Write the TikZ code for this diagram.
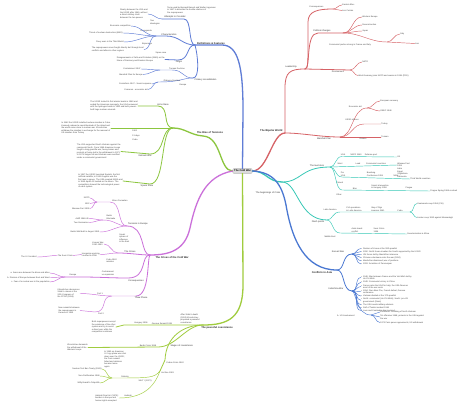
\documentclass[tikz,border=0pt]{standalone}
\usepackage{fontspec}
\setmainfont{Liberation Sans}
\definecolor{cdef}{RGB}{96,125,214}
\definecolor{cten}{RGB}{140,198,63}
\definecolor{cpur}{RGB}{203,112,218}
\definecolor{cpea}{RGB}{160,204,62}
\definecolor{cred}{RGB}{214,98,102}
\definecolor{ctea}{RGB}{56,200,182}
\definecolor{casi}{RGB}{74,120,210}
\begin{document}
\begin{tikzpicture}[x=1pt,y=-1pt,
 lf/.style={font=\fontsize{2.1}{2.5}\selectfont, inner sep=0.2pt, text=black!72, align=left},
 lab/.style={font=\fontsize{2.3}{2.7}\selectfont, inner sep=0.3pt, text=black!80, align=center},
 ml/.style={font=\bfseries\fontsize{2.6}{3}\selectfont, inner sep=0.3pt, text=black!85},
 mb/.style={line width=1.3pt, line cap=round},
 sb/.style={line width=0.8pt, line cap=round},
 lb/.style={line width=0.45pt, line cap=round}]
\useasboundingbox (0,0) rectangle (474,407);
\fill[white] (0,0) rectangle (474,407);

\node[fill=gray!28, draw=gray!55, line width=0.3pt, rounded corners=1pt, font=\bfseries\fontsize{2.6}{3}\selectfont, inner sep=1.4pt, minimum width=19pt] (root) at (242.5,171) {The Cold War};

% ================= DEFINITIONS (blue) =================
\coordinate (dJ) at (195,45);
\draw[cdef,mb] (root.north) -- (243,110) .. controls (243,66) and (238,45) .. (222,45) -- (dJ);
\node[ml,anchor=south] (dL) at (211,44.6) {Definitions \& Features};
% attempts
\coordinate (dA) at (184,19);
\coordinate (dA2) at (162,19);
\draw[cdef,sb] (dJ) .. controls (188,45) and (192,19) .. (dA) -- (dA2);
\node[lab,anchor=south] (dAl) at (175,18.6) {Attempts to Consider};
\node[lf,anchor=east] (dA1) at (148,14) {Rivalry between the USA and\\the USSR after 1945, without\\a direct military clash\\between the two powers};
\draw[cdef,lb] (dA2) to[out=180,in=0] (dA1.east);
\node[lf,anchor=south west] (dA3) at (167,14) {Term used by Bernard Baruch and Walter Lippmann\\in 1947 to describe the hostile relations of\\the superpowers};
% characteristics
\coordinate (dC) at (156,36);
\draw[cdef,sb] (dJ) .. controls (182,45) and (180,36) .. (166,36) -- (dC);
\node[lab,anchor=south] (dCl) at (169,35.6) {Characteristics};
\node[lf,anchor=east] (dC1) at (131,26) {Economic competition};
\node[lf,anchor=east] (dC2) at (123,33) {Threat of nuclear destruction (MAD)};
\node[lf,anchor=east] (dC3) at (124,42) {Proxy wars in the Third World};
\node[lf,anchor=east] (dC4) at (144,49.5) {The superpowers never fought directly but through local\\conflicts and allies in other regions};
\node[lf] (dCa) at (155,22.5) {Two\\ideologies};
\node[lf] (dCb) at (146,31) {Propaganda};
\node[lf] (dCc) at (147,44) {Espionage};
\node[lf] (dCd) at (161,52.5) {Space race};
\draw[cdef,lb] (dC) to[out=180,in=0] (dC1.east);
\draw[cdef,lb] (dC) to[out=180,in=0] (dC2.east);
\draw[cdef,lb] (dC) to[out=180,in=0] (dC3.east);
\draw[cdef,lb] (dC) to[out=180,in=0] (dC4.east);
% origin
\node[lf,anchor=east] (dO1) at (165,59.5) {Disagreements at Yalta and Potsdam (1945) on the\\future of Germany and Eastern Europe};
\draw[cdef,sb] (dJ) .. controls (186,45) and (190,60) .. (178,60) -- (dO1.east);
\node[lab,anchor=north] (dOl) at (179,60.6) {Origin};
% primary consolidation
\coordinate (dP) at (193,78);
\coordinate (dP1) at (160,70);
\coordinate (dP2) at (158,82);
\draw[cdef,sb] (dJ) .. controls (198,56) and (200,78) .. (dP);
\node[lab,anchor=north west] (dPl) at (194,78.6) {Primary consolidation};
\draw[cdef,lb] (dP) .. controls (182,78) and (184,70) .. (172,70) -- (dP1);
\draw[cdef,lb] (dP) .. controls (182,78) and (182,82) .. (dP2);
\node[lf,anchor=south] (dPa) at (177,69.6) {Truman Doctrine};
\node[lf,anchor=south] (dPb) at (172,81.6) {Zhdanov Doctrine};
\node[lf,anchor=east] (dP1a) at (141,69) {Containment 1947};
\node[lf,anchor=east] (dP1b) at (143,74.5) {Marshall Plan for Europe};
\node[lf,anchor=east] (dP2a) at (152,84) {Cominform 1947 - Soviet response};
\node[lf,anchor=east] (dP2b) at (148,89.5) {Comecon - economic aid};
\node[lf] (dP3) at (183,85) {Europe};
\draw[cdef,lb] (dP1) to[out=180,in=0] (dP1a.east);
\draw[cdef,lb] (dP1) to[out=180,in=0] (dP1b.east);
\draw[cdef,lb] (dP2) to[out=180,in=0] (dP2a.east);
\draw[cdef,lb] (dP2) to[out=180,in=0] (dP2b.east);

% ================= RISE OF TENSIONS (green) =================
\coordinate (tJ) at (173,128);
\draw[cten,mb] (root.west) .. controls (219,171) and (222,137) .. (203,136) .. controls (190,135) and (185,128) .. (tJ);
\node[ml,anchor=south] (tL) at (210,134.4) {The Rise of Tensions};
\node[lf,anchor=east] (tA1) at (138,106) {The USSR tested its first atomic bomb in 1949 and\\ended the American monopoly; the USA answered\\with the hydrogen bomb in 1952 and both powers\\built huge nuclear arsenals};
\draw[cten,sb] (tJ) .. controls (162,128) and (170,106) .. (158,106) -- (tA1.east);
\node[lab,anchor=south] (tAl) at (163,105.6) {Arms Race};
\node[lf,anchor=east] (tB1) at (111,128) {In 1962 the USSR installed nuclear missiles in Cuba.\\Kennedy ordered a naval blockade of the island and\\the world came close to nuclear war. Khrushchev\\withdrew the missiles in exchange for the removal of\\US missiles from Turkey};
\draw[cten,sb] (tJ) -- (tB1.east);
\node[lf,anchor=north west,font=\fontsize{2.1}{4.8}\selectfont] (tB2) at (132,129.5) {1962\\13 days\\Cuba};
\node[lf,anchor=east] (tC1) at (121,151.5) {The USA supported South Vietnam against the\\communist North. From 1965 American troops\\fought a long guerrilla war; heavy losses and\\protests at home led to the withdrawal in 1973.\\In 1975 Saigon fell and Vietnam was reunified\\under a communist government};
\draw[cten,sb] (tJ) .. controls (160,128) and (166,154) .. (150,154) -- (tC1.east);
\node[lab,anchor=north] (tCl) at (145,154.8) {Vietnam War};
\node[lf,anchor=east] (tD1) at (123,181) {In 1957 the USSR launched Sputnik, the first\\artificial satellite; in 1961 Gagarin was the\\first man in space. The USA created NASA and\\in 1969 Apollo 11 landed on the Moon. The\\competition showed the technological power\\of each system};
\draw[cten,sb] (tJ) .. controls (160,128) and (166,184) .. (150,184) -- (tD1.east);
\node[lab,anchor=north] (tDl) at (147,184.8) {Space Race};

% ================= CRISES (purple) =================
\coordinate (pJ) at (150,255);
\draw[cpur,mb] (root.west) .. controls (205,176) and (196,200) .. (190,228) .. controls (185,250) and (170,255) .. (pJ);
\node[ml,anchor=north west] (pL) at (155,256) {The Crises of the Cold War};
% A
\coordinate (pA) at (127,226);
\coordinate (pA1) at (97,202);
\coordinate (pA2) at (103,220);
\draw[cpur,sb] (pJ) .. controls (140,255) and (146,226) .. (pA);
\node[lab,anchor=south] (pAl) at (138,225.6) {Tensions in Europe};
\draw[cpur,lb] (pA) .. controls (117,226) and (122,202) .. (110,202) -- (pA1);
\node[lf,anchor=south] (pA1l) at (120,201.6) {Blocs Formation};
\node[lf,anchor=east] (pA1a) at (90,198) {NATO};
\node[lf,anchor=east] (pA1b) at (90,203.5) {EEC};
\node[lf,anchor=east] (pA1c) at (90,208.5) {Warsaw Pact 1955};
\draw[cpur,lb] (pA1) to[out=180,in=0] (pA1a.east);
\draw[cpur,lb] (pA1) to[out=180,in=0] (pA1b.east);
\draw[cpur,lb] (pA1) to[out=180,in=0] (pA1c.east);
\draw[cpur,lb] (pA) .. controls (117,226) and (115,220) .. (pA2);
\node[lf,anchor=south] (pA2l) at (111,219.6) {Berlin\\Blockade};
\node[lf,anchor=east] (pA2a) at (89,218.5) {Airlift 1948-49};
\node[lf,anchor=east] (pA2b) at (89,222.5) {Two Germanies};
\draw[cpur,lb] (pA2) to[out=180,in=0] (pA2a.east);
\draw[cpur,lb] (pA2) to[out=180,in=0] (pA2b.east);
\node[lf,anchor=east] (pA3) at (100,232) {Berlin Wall built in August 1961};
\draw[cpur,lb] (pA) to[out=180,in=0] (pA3.east);
\node[lf,anchor=north west] (pA4) at (119,233.5) {Soviet\\sphere of\\influence\\in the East};
% B
\coordinate (pB) at (118,253);
\draw[cpur,sb] (pJ) .. controls (140,255) and (130,253) .. (pB);
\node[lab,anchor=south] (pBl) at (130,252.6) {The Crises};
\node[lf,anchor=east] (pB1) at (104,244) {Korean War\\1950-1953};
\node[lf,anchor=east] (pB2) at (100,254.5) {Hungarian uprising\\crushed in 1956};
\node[lf,anchor=east] (pB3) at (73,255.5) {The Suez Crisis};
\node[lf,anchor=east] (pB4) at (37,257) {The U-2 incident};
\node[lf,anchor=north west] (pB5) at (106,258.5) {Cuba 1962\\missiles};
\draw[cpur,lb] (pB) to[out=180,in=0] (pB1.east);
\draw[cpur,lb] (pB) to[out=180,in=0] (pB2.east);
\draw[cpur,lb] (pB2.west) to[out=180,in=0] (pB3.east);
\draw[cpur,lb] (pB3.west) to[out=180,in=0] (pB4.east);
% C
\coordinate (pC) at (80,277);
\coordinate (pC1) at (65,277);
\draw[cpur,sb] (pJ) .. controls (140,255) and (148,278) .. (128,278) .. controls (110,278) and (100,277) .. (pC) -- (pC1);
\node[lab,anchor=north] (pCl) at (136,279) {Consequences};
\node[lf,anchor=south] (pCm) at (73,276.6) {Europe};
\node[lf,anchor=south] (pCn) at (108,276) {Containment\\vs expansion};
\node[lf,anchor=east] (pC1a) at (50,273) {a. Arms race between the blocs and allies};
\node[lf,anchor=east] (pC1b) at (50,277.5) {b. Division of Europe between East and West};
\node[lf,anchor=east] (pC1c) at (50,282) {c. Fear of a nuclear war in the population};
\draw[cpur,lb] (pC1) to[out=180,in=0] (pC1a.east);
\draw[cpur,lb] (pC1) to[out=180,in=0] (pC1b.east);
\draw[cpur,lb] (pC1) to[out=180,in=0] (pC1c.east);
% D
\coordinate (pD) at (136,296);
\coordinate (pD2) at (112,296);
\draw[cpur,sb] (pJ) .. controls (147,258) and (150,296) .. (pD);
\node[lab,anchor=north] (pDl) at (141,296.8) {Thaw Phase};
\node[lf,anchor=east] (pD1) at (80,293.5) {Khrushchev denounces\\Stalin's crimes at the\\20th Congress of\\the CPSU (1956)};
\draw[cpur,lb] (pD) -- (pD2) to[out=180,in=0] (pD1.east);
\node[lf,anchor=south] (pD1l) at (100,294.6) {Part 1};
\node[lf,anchor=east] (pD3) at (80,310.5) {New summits between\\the superpowers in\\Geneva in 1955};
\draw[cpur,lb] (pD2) .. controls (100,296) and (108,312) .. (95,312) -- (pD3.east);
\node[lf,anchor=north] (pD3l) at (101,312.6) {Part 2};

% ================= PEACEFUL COEXISTENCE (lime) =================
\coordinate (cJ) at (203,325);
\draw[cpea,mb] (root.south) -- (243,285) .. controls (243,318) and (228,325) .. (cJ);
\node[ml,anchor=north] (cL) at (217,325.8) {The peaceful coexistence};
\node[lf,anchor=south east] (cN) at (200,323.5) {After Stalin's death\\(1953) Khrushchev\\proposed a peaceful\\coexistence};
\node[lf,anchor=east] (cA1) at (116,327) {Both superpowers accept\\the existence of the other\\system and try to avoid\\a direct war, while the\\competition continues};
\draw[cpea,sb] (cJ) -- (124,325) to[out=180,in=0] (cA1.east);
\node[lf,anchor=south] (cAa) at (141,324.6) {Hungary 1956};
\node[lf,anchor=south] (cAb) at (162,324.6) {Geneva Summit 1955};
\node[lf,anchor=east] (cB1) at (88,347.5) {Khrushchev demands\\the withdrawal of the\\Western troops};
\draw[cpea,sb] (cJ) .. controls (186,325) and (176,347) .. (158,347) -- (cB1.east);
\node[lf,anchor=south] (cB1l) at (148,346.6) {Berlin Crisis 1958};
\node[lab,anchor=west] (cBl) at (170,345.5) {Stages of coexistence};
\node[lf,anchor=north west] (cB2) at (104,350.5) {In 1960 an American\\U-2 spy plane was shot\\down over the USSR;\\the Paris summit\\failed and relations\\became tense\\again};
\coordinate (cC) at (165,360);
\coordinate (cC2) at (160,371);
\coordinate (cD) at (112,378);
\draw[cpea,sb] (cJ) .. controls (184,325) and (166,336) .. (cC) -- (cC2);
\node[lf,anchor=west] (cCl) at (166,362.5) {Cuban Crisis 1962};
\node[lf,anchor=west] (cC2l) at (161,373) {Hot line 1963};
\draw[cpea,lb] (cC2) .. controls (154,378) and (150,378) .. (cD);
\node[lf,anchor=south] (cDl) at (125,377.6) {D\'etente};
\node[lf,anchor=north] (cSl) at (145,379.2) {SALT I (1972)};
\node[lf,anchor=east] (cD1) at (102,369) {Nuclear Test Ban Treaty (1963)};
\node[lf,anchor=east] (cD2) at (100,376) {Non-Proliferation 1968};
\node[lf,anchor=east] (cD3) at (100,383) {Willy Brandt's Ostpolitik};
\draw[cpea,lb] (cD) to[out=180,in=0] (cD1.east);
\draw[cpea,lb] (cD) to[out=180,in=0] (cD2.east);
\draw[cpea,lb] (cD) to[out=180,in=0] (cD3.east);
\node[lf,anchor=east] (cE1) at (119,398) {Helsinki Final Act (1975):\\borders in Europe and\\human rights accepted};
\draw[cpea,lb] (cC2) .. controls (155,385) and (145,398) .. (cE1.east);
\node[lf,anchor=south] (cEl) at (128,397.4) {Helsinki};

% ================= BIPOLAR WORLD (red) =================
\coordinate (rJ) at (285,133);
\draw[cred,mb] (root.east) .. controls (268,171) and (272,133) .. (rJ);
\node[ml,anchor=south east] (rL) at (283,132.4) {The Bipolar World};
\coordinate (rA) at (305,69);
\draw[cred,sb] (rJ) -- (285,88) .. controls (285,72) and (290,69) .. (rA);
\node[lab,anchor=south] (rAl) at (291,68.4) {Leadership};
% up
\coordinate (rA1) at (333,9);
\draw[cred,sb] (rA) .. controls (308,69) and (308,62) .. (308,45) -- (308,22) .. controls (308,11) and (318,9) .. (rA1);
\node[lf,anchor=south west] (rA1l) at (309,8.6) {Consequences};
\node[lf,anchor=west] (rA1a) at (342,5) {Eastern Bloc};
\node[lf,anchor=west] (rA1b) at (342,10.5) {Iron Curtain};
\draw[cred,lb] (rA1) to[out=0,in=180] (rA1a.west);
\draw[cred,lb] (rA1) to[out=0,in=180] (rA1b.west);
% middle
\coordinate (rA2) at (343,33);
\coordinate (rA3) at (387,42);
\draw[cred,sb] (rA) .. controls (311,69) and (305,33) .. (318,33) -- (rA2);
\node[lab,anchor=south] (rA2l) at (322,32.6) {Political changes};
\node[lf,anchor=west] (rA2a) at (362,17) {Western Europe};
\node[lf,anchor=west] (rA2b) at (362,25) {Reconstruction};
\node[lf,anchor=west] (rA2c) at (362,31) {Japan};
\node[lf,anchor=west] (rA3a) at (400,34) {Italy};
\node[lf,anchor=west] (rA3b) at (415,43.5) {Iran};
\node[lf,anchor=north] (rA2n) at (350,44) {Communist parties strong in France and Italy};
\draw[cred,lb] (rA2) to[out=0,in=180] (rA2a.west);
\draw[cred,lb] (rA2) to[out=0,in=180] (rA2b.west);
\draw[cred,lb] (rA2) to[out=0,in=180] (rA2c.west);
\draw[cred,lb] (rA2) to[out=0,in=180] (rA3);
\draw[cred,lb] (rA3) to[out=0,in=180] (rA3a.west);
\draw[cred,lb] (rA3) -- (rA3b.west);
% lower
\coordinate (rA4) at (350,70);
\draw[cred,sb] (rA) -- (rA4);
\node[lf,anchor=north] (rA4l) at (338,70.6) {Rearmament};
\node[lf,anchor=west] (rA4a) at (362,62) {NATO};
\node[lf,anchor=west] (rA4b) at (358,75.5) {West Germany joins NATO and rearms in 1955 (FRG)};
\draw[cred,lb] (rA4) to[out=0,in=180] (rA4a.west);
\draw[cred,lb] (rA4) to[out=0,in=180] (rA4b.west);
% right
\coordinate (rB) at (340,137);
\coordinate (rB1) at (367,108);
\draw[cred,sb] (rJ) .. controls (302,133) and (320,137) .. (rB);
\node[lab,anchor=north] (rBl) at (324,137.6) {Marshall Plan};
\draw[cred,lb] (rB) .. controls (353,137) and (352,108) .. (rB1);
\node[lf,anchor=south east] (rB1l) at (362,107.6) {Economic aid};
\node[lf,anchor=west] (rB1a) at (380,101) {European recovery};
\node[lf,anchor=west] (rB1b) at (380,111) {OEEC 1948};
\draw[cred,lb] (rB1) to[out=0,in=180] (rB1a.west);
\draw[cred,lb] (rB1) to[out=0,in=180] (rB1b.west);
\node[lf,anchor=west] (rB2) at (381,124) {Turkey};
\draw[cred,lb] (rB) .. controls (352,137) and (352,124) .. (364,124) -- (rB2.west);
\node[lf,anchor=south] (rB2l) at (352,121) {USSR refuses};
\node[lf,anchor=west] (rB3) at (381,137) {Truman};
\draw[cred,lb] (rB) -- (rB3.west);
\node[lf,anchor=north] (rB3l) at (363,137.6) {Greece};

% ================= BEGINNINGS (teal) =================
\coordinate (eJ) at (282,182);
\draw[ctea,mb] (root.east) .. controls (266,171) and (268,182) .. (eJ);
\node[lab,anchor=north] (eL) at (268,191.5) {The beginnings of Crisis};
\coordinate (eT1) at (330,167);
\draw[ctea,sb] (eJ) .. controls (302,182) and (300,167) .. (eT1);
\node[lab,anchor=south] (eT1l) at (317,166.6) {The two blocs};
% 1
\node[lf,anchor=west] (e1) at (397,157) {UK};
\draw[ctea,lb] (eT1) .. controls (336,167) and (335,156.5) .. (342,156.5) -- (e1.west);
\node[lf,anchor=south] (e1a) at (343,156.2) {USA};
\node[lf,anchor=south] (e1b) at (356,156.2) {NATO 1949};
\node[lf,anchor=south] (e1c) at (371,156.2) {Defense pact};
% 2
\node[lf,anchor=west] (e2) at (397,165) {Warsaw Pact\\1955};
\draw[ctea,lb] (eT1) -- (e2.west);
\node[lf,anchor=south] (e2a) at (340,164.6) {West};
\node[lf,anchor=south] (e2b) at (358,164.6) {Lead};
\node[lf,anchor=south] (e2c) at (376,164.6) {Communist countries};
\node[lf,anchor=north west] (e2d) at (397,167.8) {India\\Egypt\\Yugoslavia\\Indonesia};
% 3
\node[lf,anchor=west] (e3) at (410,179) {Third World countries};
\draw[ctea,lb] (eT1) .. controls (336,167) and (335,177) .. (342,177) -- (e3.west);
\node[lf,anchor=south] (e3a) at (343,176.6) {Pro\\USA};
\node[lf,anchor=south] (e3b) at (375,176.6) {Bandung\\Conference 1955};
\node[lf,anchor=south] (e3c) at (396,176.6) {NAM};
% 4
\node[lf,anchor=west] (e4) at (336,182.5) {Poland};
% 5
\node[lf,anchor=west] (e5) at (430,191) {Prague Spring 1968 crushed};
\draw[ctea,lb] (eT1) .. controls (336,167) and (335,190) .. (342,190) -- (e5.west);
\node[lf,anchor=south] (e5a) at (355,189.6) {Bloc};
\node[lf,anchor=south] (e5b) at (380,189.6) {Soviet intervention\\in Hungary 1956};
\node[lf,anchor=south] (e5c) at (409,189.6) {Prague};
\node[lf,anchor=west] (e6) at (336,194.5) {Other};
% lower
\coordinate (eT2) at (327,220);
\coordinate (eT3) at (410,212);
\draw[ctea,sb] (eJ) .. controls (298,182) and (298,220) .. (eT2);
\node[lab,anchor=north] (eT2l) at (318,220.6) {Flash points};
\node[lf] (eT2m) at (330,209.3) {Latin America};
\draw[ctea,lb] (eT2) .. controls (333,220) and (332,212) .. (340,212) -- (eT3);
\node[lf,anchor=south] (e7a) at (354,211.6) {CIA operations\\in Latin America};
\node[lf,anchor=south] (e7b) at (378,211.6) {Bay of Pigs\\invasion 1961};
\node[lf,anchor=south] (e7c) at (400,211.6) {Cuba};
\node[lf,anchor=west] (e7d) at (417,203.5) {Guatemala coup 1954 (CIA)};
\node[lf,anchor=west] (e7e) at (417,217.5) {Iranian coup 1953 against Mossadegh};
\draw[ctea,lb] (eT3) to[out=0,in=180] (e7d.west);
\draw[ctea,lb] (eT3) to[out=0,in=180] (e7e.west);
\node[lf,anchor=west] (e8) at (407,234) {Decolonisation in Africa};
\draw[ctea,lb] (eT2) .. controls (333,220) and (332,233) .. (340,233) -- (e8.west);
\node[lf,anchor=south] (e8a) at (357,232.6) {Arab-Israeli\\conflict};
\node[lf,anchor=south] (e8b) at (379,232.6) {Suez Crisis\\1956};
\node[lf,anchor=north] (e8c) at (330,235.5) {Middle East};

% ================= ASIA (blue) =================
\coordinate (aJ) at (337,270);
\draw[casi,mb] (root.east) .. controls (274,172) and (282,185) .. (286,205) .. controls (292,240) and (305,270) .. (aJ);
\node[ml,anchor=north] (aL) at (322,270.8) {Conflicts in Asia};
\coordinate (aK) at (352,254);
\draw[casi,sb] (aJ) .. controls (345,270) and (342,254) .. (aK);
\node[lab,anchor=south] (aKl) at (338,253.4) {Korean War};
\foreach \n/\y/\t in {1/248.5/Division of Korea at the 38th parallel,
 2/251.5/1950: North Korea invades the South supported by the USSR,
 3/254.5/UN forces led by MacArthur intervene,
 4/257.5/Chinese volunteers enter the war (1950),
 5/260.8/MacArthur dismissed; war of positions,
 6/264/1953: Armistice of Panmunjom}{
 \node[lf,anchor=west] (k\n) at (361,\y) {\textbullet\enspace\t};
 \draw[casi,lb] (aK) to[out=0,in=180] (k\n.west);
}
\coordinate (aI) at (352,291);
\draw[casi,sb] (aJ) .. controls (345,270) and (342,291) .. (aI);
\node[lab,anchor=south] (aIl) at (336,290.4) {Indochina War};
\node[lf,anchor=west] (i1) at (361,277.5) {\textbullet\enspace 1946: War between France and the Viet Minh led by\\\phantom{\textbullet\enspace}Ho Chi Minh};
\node[lf,anchor=west] (i2) at (361,282.3) {\textbullet\enspace 1949: Communist victory in China};
\node[lf,anchor=west] (i3) at (361,286.5) {\textbullet\enspace France asks the USA for help; the USA finances\\\phantom{\textbullet\enspace}most of the war costs};
\node[lf,anchor=west] (i4) at (361,291.5) {\textbullet\enspace 1954: Dien Bien Phu, French defeat; Geneva\\\phantom{\textbullet\enspace}conference};
\node[lf,anchor=west] (i5) at (361,296) {\textbullet\enspace Vietnam divided at the 17th parallel};
\node[lf,anchor=west] (i6) at (361,300.3) {\textbullet\enspace North: communist (Ho Chi Minh); South: pro-US\\\phantom{\textbullet\enspace}government (Diem)};
\node[lf,anchor=west] (i7) at (361,304.5) {\textbullet\enspace The USA sends military advisers};
\node[lf,anchor=west] (i8) at (361,307.5) {\textbullet\enspace Gulf of Tonkin incident 1964};
\node[lf,anchor=west] (i9) at (361,310.5) {\textbullet\enspace Laos and Cambodia also involved};
\foreach \n in {1,...,9}{\draw[casi,lb] (aI) to[out=0,in=180] (i\n.west);}
\coordinate (aD) at (371,315);
\draw[casi,lb] (aI) .. controls (356,291) and (356,315) .. (aD);
\node[lf,anchor=east] (aDl) at (355,315.5) {A. US Involvement};
\node[lf,anchor=west] (d1) at (380,312) {Escalation: bombing of North Vietnam};
\node[lf,anchor=west] (d2) at (380,317) {Tet offensive 1968; protests in the USA against\\the war};
\node[lf,anchor=west] (d3) at (380,322.5) {1973 Paris peace agreements; US withdrawal};
\draw[casi,lb] (aD) to[out=0,in=180] (d1.west);
\draw[casi,lb] (aD) to[out=0,in=180] (d2.west);
\draw[casi,lb] (aD) to[out=0,in=180] (d3.west);
\end{tikzpicture}
\end{document}
